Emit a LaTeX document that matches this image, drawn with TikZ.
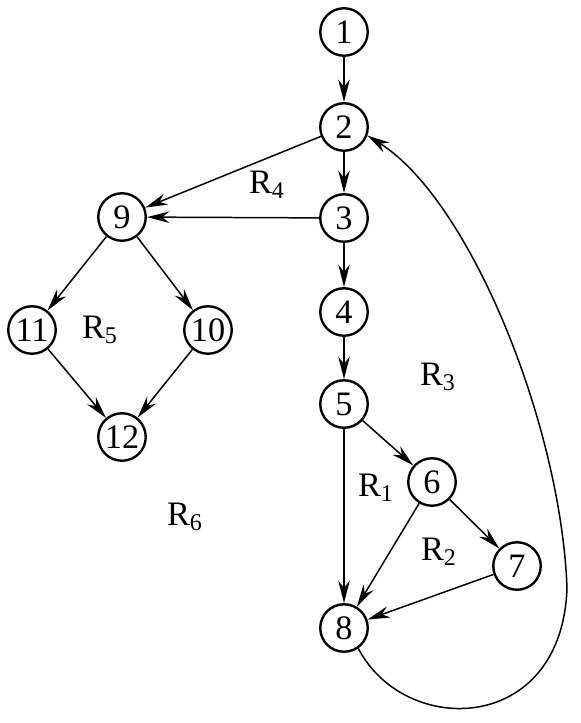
\documentclass[tikz,border=0pt]{standalone}
\usepackage{fontspec}
\setmainfont{Liberation Serif}
\usetikzlibrary{arrows.meta}

\begin{document}
\begin{tikzpicture}[
  x=0.02cm, y=-0.02cm,
  every node/.style = {font=\fontsize{19.5}{21}\selectfont},
  vtx/.style = {draw, circle, line width=1.35pt, minimum size=0.95cm, inner sep=0pt},
  lbl/.style = {inner sep=0pt},
  conn/.style = {line width=0.85pt, ->},
  >={Stealth[length=0.45cm, width=0.23cm]}
]
  \useasboundingbox (0,0) rectangle (581,723);

  \node[vtx] (n1) at (344,32) {1};
  \node[vtx] (n2) at (344,127) {2};
  \node[vtx] (n3) at (344,218) {3};
  \node[vtx] (n4) at (344,312) {4};
  \node[vtx] (n5) at (344,404) {5};
  \node[vtx] (n6) at (432,482) {6};
  \node[vtx] (n7) at (517,566) {7};
  \node[vtx] (n8) at (344,628) {8};
  \node[vtx] (n9) at (122,217) {9};
  \node[vtx] (n10) at (208,330) {10};
  \node[vtx] (n11) at (32,330) {11};
  \node[vtx] (n12) at (122,437) {12};

  \draw[conn] (n1) -- (n2);
  \draw[conn] (n2) -- (n3);
  \draw[conn] (n3) -- (n4);
  \draw[conn] (n4) -- (n5);
  \draw[conn] (n5) -- (n6);
  \draw[conn] (n5) -- (n8);
  \draw[conn] (n6) -- (n7);
  \draw[conn] (n6) -- (n8);
  \draw[conn] (n7) -- (n8);
  \draw[conn] (n2) -- (n9);
  \draw[conn] (n3) -- (n9);
  \draw[conn] (n9) -- (n11);
  \draw[conn] (n9) -- (n10);
  \draw[conn] (n11) -- (n12);
  \draw[conn] (n10) -- (n12);

  % loop back from 8 to 2
  \coordinate (back) at (567,588);
  \draw[conn] (n8.-55) .. controls (405,738) and (562,735) .. (back)
    .. controls (561,425) and (470,200) .. (n2.-20);

  \node[lbl] (r1) at (376,488) {R\textsubscript{1}};
  \node[lbl] (r2) at (439,552) {R\textsubscript{2}};
  \node[lbl] (r3) at (438,377) {R\textsubscript{3}};
  \node[lbl] (r4) at (267,185) {R\textsubscript{4}};
  \node[lbl] (r5) at (100,330) {R\textsubscript{5}};
  \node[lbl] (r6) at (185,517) {R\textsubscript{6}};
\end{tikzpicture}
\end{document}
